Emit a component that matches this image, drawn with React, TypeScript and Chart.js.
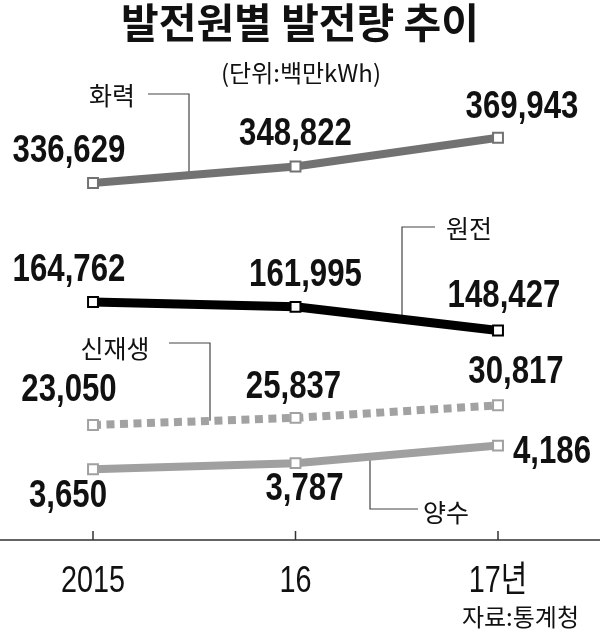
import { useEffect, useRef } from "react"
import { Chart, registerables } from "chart.js"
import type { Plugin } from "chart.js"

Chart.register(...registerables)

// 데이터 (단위: 백만kWh)
const years = ["2015", "16", "17년"]
const seriesNames = ["화력", "원전", "신재생", "양수"]
const thermal = [336629, 348822, 369943]
const nuclear = [164762, 161995, 148427]
const renewable = [23050, 25837, 30817]
const pumped = [3650, 3787, 4186]

const titleText = "발전원별 발전량 추이"
const unitText = "(단위:백만kWh)"
const sourceText = "자료:통계청"

const numFont = '"Liberation Sans", "Noto Sans CJK KR", sans-serif'
const krFont = '"Noto Sans CJK KR", sans-serif'
const narrow = 0.8

// 계열별로 끊어진 세로축 범위
const axisRanges = [
  { min: 73744, max: 464812 },
  { min: 28443, max: 332625 },
  { min: -22387, max: 187322 },
  { min: 2042, max: 14102 },
]

const lineColors = ["#727272", "#000000", "#a2a2a2", "#a0a0a0"]
const lineWidths = [8, 9, 8, 8]

// 값 라벨 위치 (점 기준 dx, dy)
const valueOffsets = [
  [[-24, -32], [0, -32], [24, -31]],
  [[-24, -32], [10, -32], [6, -34]],
  [[-24, -35], [-2, -31], [18, -33]],
  [[-25, 27], [9, 26], [54, 7]],
]

// 계열 이름 + 꺾은 지시선
const leaders = [
  { tx: 112, ty: 95, hx: 148, hy: 94, vx: 189 },
  { tx: 469, ty: 228, hx: 435, hy: 227, vx: 402 },
  { tx: 115, ty: 348, hx: 169, hy: 343, vx: 210 },
  { tx: 446, ty: 512, hx: 418, hy: 509, vx: 370 },
]

function lineYAt(points: { x: number; y: number }[], x: number) {
  for (let i = 0; i < points.length - 1; i++) {
    const a = points[i]
    const b = points[i + 1]
    if (x >= a.x && x <= b.x) {
      return a.y + ((x - a.x) / (b.x - a.x)) * (b.y - a.y)
    }
  }
  return points[points.length - 1].y
}

// 좁은 글꼴이 없어서 가로로 눌러 그림
function narrowText(ctx: CanvasRenderingContext2D, text: string, x: number, y: number) {
  ctx.save()
  ctx.translate(x, y)
  ctx.scale(narrow, 1)
  ctx.fillText(text, 0, 0)
  ctx.restore()
}

const decorPlugin: Plugin<"line"> = {
  id: "decor",
  beforeDatasetsDraw(chart) {
    const { ctx, chartArea, width } = chart
    ctx.save()
    // 바닥 축선과 눈금
    ctx.strokeStyle = "#333"
    ctx.lineWidth = 1.5
    ctx.beginPath()
    ctx.moveTo(0, chartArea.bottom)
    ctx.lineTo(width, chartArea.bottom)
    const xScale = chart.scales.x
    years.forEach((_, i) => {
      const px = xScale.getPixelForTick(i)
      ctx.moveTo(px, chartArea.bottom - 9)
      ctx.lineTo(px, chartArea.bottom)
    })
    ctx.stroke()

    // 연도 라벨
    ctx.fillStyle = "#111"
    ctx.textAlign = "center"
    ctx.textBaseline = "middle"
    ctx.font = `36px ${numFont}`
    years.forEach((label, i) => {
      narrowText(ctx, label, xScale.getPixelForTick(i), chartArea.bottom + 42)
    })

    // 지시선
    ctx.strokeStyle = "#444"
    ctx.lineWidth = 1.2
    leaders.forEach((l, di) => {
      const pts = chart.getDatasetMeta(di).data.map((p) => ({ x: p.x, y: p.y }))
      const ly = lineYAt(pts, l.vx)
      ctx.beginPath()
      ctx.moveTo(l.hx, l.hy)
      ctx.lineTo(l.vx, l.hy)
      ctx.lineTo(l.vx, ly)
      ctx.stroke()
    })
    ctx.restore()
  },
  afterDatasetsDraw(chart) {
    const { ctx, width } = chart
    ctx.save()
    ctx.textAlign = "center"
    ctx.textBaseline = "middle"
    ctx.fillStyle = "#111"

    // 제목
    ctx.font = `bold 41px ${krFont}`
    ctx.fillText(titleText, width / 2, 22)
    ctx.font = `24px ${krFont}`
    ctx.fillText(unitText, 301, 73)

    // 계열 이름
    ctx.font = `25px ${krFont}`
    leaders.forEach((l, di) => {
      ctx.fillText(seriesNames[di], l.tx, l.ty)
    })

    // 값 라벨
    ctx.font = `bold 39px ${numFont}`
    chart.data.datasets.forEach((ds, di) => {
      const meta = chart.getDatasetMeta(di)
      meta.data.forEach((p, i) => {
        const v = ds.data[i] as number
        const [dx, dy] = valueOffsets[di][i]
        narrowText(ctx, v.toLocaleString("en-US"), p.x + dx, p.y + dy)
      })
    })

    // 출처
    ctx.textAlign = "right"
    ctx.font = `24px ${krFont}`
    ctx.fillText(sourceText, 579, 617)
    ctx.restore()
  },
}

export default function App() {
  const chartRef = useRef<HTMLCanvasElement>(null)
  const chartInstance = useRef<Chart | null>(null)

  useEffect(() => {
    if (!chartRef.current) return
    if (chartInstance.current) {
      chartInstance.current.destroy()
    }

    const seriesData = [thermal, nuclear, renewable, pumped]
    const datasets = seriesData.map((data, i) => ({
      label: seriesNames[i],
      data,
      yAxisID: `y${i}`,
      borderColor: lineColors[i],
      borderWidth: lineWidths[i],
      borderDash: i === 2 ? [8, 5.5] : [],
      borderCapStyle: "butt" as const,
      tension: 0,
      pointStyle: "rect" as const,
      pointRadius: 7,
      pointBorderWidth: 2,
      pointBorderColor: lineColors[i],
      pointBackgroundColor: "#ffffff",
      clip: false as const,
    }))

    const yScales: Record<string, any> = {}
    axisRanges.forEach((r, i) => {
      yScales[`y${i}`] = { type: "linear", display: false, min: r.min, max: r.max }
    })

    const ctx = chartRef.current.getContext("2d")
    if (ctx) {
      chartInstance.current = new Chart(ctx, {
        type: "line",
        data: { labels: years, datasets },
        options: {
          animation: false,
          responsive: true,
          maintainAspectRatio: false,
          events: [],
          layout: { padding: { left: 93, right: 102, top: 0, bottom: 0 } },
          scales: {
            x: {
              type: "category",
              offset: false,
              grid: { display: false, drawTicks: false },
              border: { display: false },
              ticks: { display: false },
              afterFit: (scale) => {
                scale.height = 93
              },
            },
            ...yScales,
          },
          plugins: {
            legend: { display: false },
            tooltip: { enabled: false },
          },
        },
        plugins: [decorPlugin],
      })
    }

    return () => {
      if (chartInstance.current) {
        chartInstance.current.destroy()
        chartInstance.current = null
      }
    }
  }, [])

  return (
    <div style={{ position: "absolute", left: 0, top: 0, width: 600, height: 633, background: "#fff" }}>
      <canvas ref={chartRef} />
    </div>
  )
}
